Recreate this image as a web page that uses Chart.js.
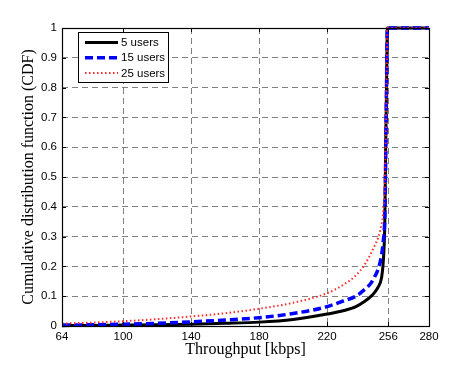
<!DOCTYPE html>
<html>
<head>
<meta charset="utf-8">
<title>Throughput CDF</title>
<script src="https://cdn.jsdelivr.net/npm/chart.js@4.4.1/dist/chart.umd.min.js"></script>
<style>
  html, body { margin: 0; padding: 0; background: #fff; }
  #wrap { width: 474px; height: 367px; }
</style>
</head>
<body>
<div id="wrap"><canvas id="cdf" width="474" height="367"></canvas></div>
<script>
// ── DATA ──
const throughput = [64, 80, 100, 120, 140, 160, 180, 200, 220, 230, 237, 242, 246, 248, 250, 252, 253, 254, 254.5, 255, 255.5, 256, 280];
const users5  = [0.001, 0.002, 0.003, 0.004, 0.006, 0.009, 0.013, 0.022, 0.04, 0.052, 0.065, 0.082, 0.1, 0.113, 0.13, 0.16, 0.21, 0.35, 0.6, 0.8, 1, 1, 1];
const users15 = [0.003, 0.004, 0.006, 0.009, 0.014, 0.02, 0.028, 0.042, 0.065, 0.085, 0.1, 0.122, 0.145, 0.165, 0.19, 0.235, 0.28, 0.37, 0.55, 0.8, 1, 1, 1];
const users25 = [0.008, 0.011, 0.016, 0.023, 0.032, 0.043, 0.058, 0.078, 0.11, 0.14, 0.17, 0.205, 0.245, 0.27, 0.295, 0.34, 0.38, 0.48, 0.62, 0.8, 1, 1, 1];

const seriesLabels = ['5 users', '15 users', '25 users'];
const xTicks = [64, 100, 140, 180, 220, 256, 280];

const toPoints = (ys) => throughput.map((x, i) => ({ x, y: ys[i] }));

const sansFont  = "'Liberation Sans', Arial, sans-serif";
const serifFont = "'Liberation Serif', 'Times New Roman', serif";

// ── FRAME + INWARD TICKS (matlab look) ──
const framePlugin = {
  id: 'frame',
  afterDatasetsDraw(chart) {
    const { ctx, chartArea: a, scales } = chart;
    ctx.save();
    ctx.strokeStyle = '#000';
    ctx.lineWidth = 1;
    ctx.beginPath();
    scales.x.ticks.forEach(t => {
      const px = Math.round(scales.x.getPixelForValue(t.value)) + 0.5;
      ctx.moveTo(px, a.bottom); ctx.lineTo(px, a.bottom - 4);
      ctx.moveTo(px, a.top);    ctx.lineTo(px, a.top + 4);
    });
    scales.y.ticks.forEach(t => {
      const py = Math.round(scales.y.getPixelForValue(t.value)) + 0.5;
      ctx.moveTo(a.left, py);  ctx.lineTo(a.left + 4, py);
      ctx.moveTo(a.right, py); ctx.lineTo(a.right - 4, py);
    });
    ctx.stroke();
    ctx.lineWidth = 1.2;
    ctx.strokeRect(a.left + 0.5, a.top + 0.5, a.right - a.left, a.bottom - a.top);
    ctx.restore();
  }
};

// ── LEGEND BOX (inside plot, top-left) ──
const legendBoxPlugin = {
  id: 'legendBox',
  afterDraw(chart) {
    const { ctx, chartArea: a } = chart;
    const x0 = a.left + 16, y0 = a.top + 4, w = 90, h = 50;
    ctx.save();
    ctx.fillStyle = '#fff';
    ctx.fillRect(x0, y0, w, h);
    ctx.strokeStyle = '#000';
    ctx.lineWidth = 1;
    ctx.strokeRect(x0 + 0.5, y0 + 0.5, w, h);
    ctx.font = '11.5px ' + sansFont;
    ctx.textBaseline = 'middle';
    ctx.fillStyle = '#000';
    chart.data.datasets.forEach((ds, i) => {
      const y = y0 + 10.5 + i * 15.3;
      ctx.beginPath();
      ctx.strokeStyle = ds.borderColor;
      ctx.lineWidth = ds.borderWidth;
      ctx.setLineDash(ds.borderDash || []);
      ctx.moveTo(x0 + 7, y);
      ctx.lineTo(x0 + 40, y);
      ctx.stroke();
      ctx.setLineDash([]);
      ctx.fillText(ds.label, x0 + 43, y + 0.5);
    });
    ctx.restore();
  }
};

new Chart(document.getElementById('cdf'), {
  type: 'line',
  data: {
    datasets: [
      {
        label: seriesLabels[0],
        data: toPoints(users5),
        borderColor: '#000000',
        borderWidth: 3,
        order: 2
      },
      {
        label: seriesLabels[1],
        data: toPoints(users15),
        borderColor: '#0000ff',
        borderWidth: 3.5,
        borderDash: [8, 4],
        order: 1
      },
      {
        label: seriesLabels[2],
        data: toPoints(users25),
        borderColor: '#ff2a2a',
        borderWidth: 2,
        borderDash: [1.5, 2.5],
        order: 0
      }
    ]
  },
  options: {
    responsive: false,
    animation: false,
    devicePixelRatio: 1,
    layout: { padding: { left: 0, top: 28, right: 45, bottom: 0 } },
    elements: {
      point: { radius: 0 },
      line: { cubicInterpolationMode: 'monotone', fill: false }
    },
    clip: false,
    plugins: {
      legend: { display: false },
      tooltip: { enabled: false }
    },
    scales: {
      x: {
        type: 'linear',
        min: 64,
        max: 280,
        afterBuildTicks: (scale) => { scale.ticks = xTicks.map(v => ({ value: v })); },
        afterFit: (scale) => { scale.height = 41; },
        grid: { color: '#808080', lineWidth: 1, drawTicks: false },
        border: { display: false, dash: [6, 4] },
        ticks: {
          color: '#000',
          padding: 4,
          maxRotation: 0,
          autoSkip: false,
          font: { family: sansFont, size: 11.5 },
          callback: (v) => String(v)
        },
        title: {
          display: true,
          text: 'Throughput [kbps]',
          color: '#000',
          font: { family: serifFont, size: 16 },
          padding: { top: 0, bottom: 8 }
        }
      },
      y: {
        min: 0,
        max: 1,
        afterFit: (scale) => { scale.width = 62; },
        grid: { color: '#808080', lineWidth: 1, drawTicks: false },
        border: { display: false, dash: [6, 4] },
        ticks: {
          stepSize: 0.1,
          color: '#000',
          padding: 5,
          font: { family: sansFont, size: 11.5 },
          callback: (v) => String(Number(v.toFixed(1)))
        },
        title: {
          display: true,
          text: 'Cumulative distribution function (CDF)',
          color: '#000',
          font: { family: serifFont, size: 16 },
          padding: { top: 19, bottom: 0 }
        }
      }
    }
  },
  plugins: [framePlugin, legendBoxPlugin]
});
</script>
</body>
</html>
